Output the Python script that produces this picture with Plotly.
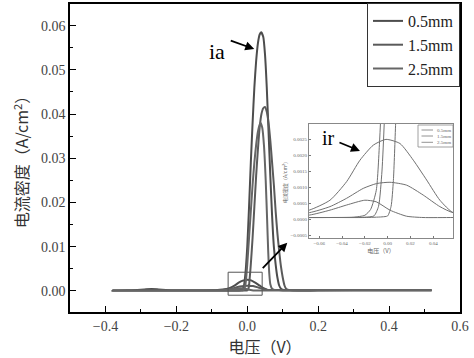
import plotly.graph_objects as go

# ---------------- data ----------------
series_names = ["0.5mm", "1.5mm", "2.5mm"]

# 0.5 mm : forward scan (activation peak ia) and reverse scan (reactivation peak ir)
v_fwd_05 = [-0.38, -0.30, -0.20, -0.10, -0.05, -0.03, -0.02, -0.015, -0.01, -0.007, -0.004, 0.0, 0.005,
            0.01, 0.015, 0.02, 0.025, 0.03, 0.035, 0.039, 0.045, 0.05, 0.055, 0.06, 0.065, 0.07, 0.075,
            0.08, 0.085, 0.09, 0.095, 0.10, 0.12, 0.2, 0.3, 0.4, 0.52]
j_fwd_05 = [0.00005, 0.00005, 0.00005, 0.00005, 0.00005, 0.00006, 0.00012, 0.0003, 0.0009, 0.0025, 0.005,
            0.010, 0.019, 0.029, 0.038, 0.046, 0.052, 0.056, 0.058, 0.0585, 0.0575, 0.0535, 0.046, 0.036,
            0.026, 0.017, 0.010, 0.006, 0.003, 0.0012, 0.0005, 0.00025, 0.0001, 0.0001, 0.0001, 0.0001, 0.0001]
v_rev_05 = [0.52, 0.4, 0.3, 0.2, 0.1, 0.075, 0.0575, 0.0458, 0.0342, 0.0225, 0.0108, -0.0015, -0.0126,
            -0.0243, -0.036, -0.0506, -0.0688, -0.09, -0.12, -0.16, -0.2, -0.23, -0.25, -0.27, -0.29,
            -0.31, -0.34, -0.38]
j_rev_05 = [0.0001, 0.0001, 0.0001, 0.00012, 0.00015, 0.00018, 0.0002, 0.00059, 0.00122, 0.00184, 0.00236,
            0.00249, 0.00231, 0.00184, 0.00117, 0.00059, 0.00028, 0.00015, 0.0001, 0.0001, 0.00012, 0.0002,
            0.0003, 0.0004, 0.0003, 0.0002, 0.0001, 0.00005]

# 1.5 mm
v_fwd_15 = [-0.38, -0.2, -0.05, -0.02, -0.005, 0.0, 0.003, 0.005, 0.007, 0.01, 0.015, 0.02, 0.025, 0.03,
            0.035, 0.04, 0.045, 0.05, 0.055, 0.06, 0.065, 0.07, 0.075, 0.08, 0.085, 0.09, 0.095, 0.1, 0.105,
            0.11, 0.12, 0.2, 0.35, 0.52]
j_fwd_15 = [0.00005, 0.00005, 0.00005, 0.00005, 0.00007, 0.0001, 0.0004, 0.0012, 0.003, 0.006, 0.012, 0.019,
            0.026, 0.032, 0.037, 0.040, 0.0413, 0.0416, 0.0405, 0.038, 0.034, 0.029, 0.024, 0.018, 0.013,
            0.009, 0.0055, 0.003, 0.0012, 0.0004, 0.00012, 0.0001, 0.0001, 0.0001]
v_rev_15 = [0.52, 0.35, 0.2, 0.1, 0.0575, 0.0458, 0.0312, 0.0166, 0.002, -0.0097, -0.0214, -0.036, -0.0506,
            -0.0688, -0.1, -0.15, -0.25, -0.38]
j_rev_15 = [0.0001, 0.0001, 0.00012, 0.00015, 0.0002, 0.00039, 0.00075, 0.00106, 0.00115, 0.00111, 0.00096,
            0.00065, 0.00039, 0.0002, 0.0001, 0.00007, 0.00006, 0.00005]

# 2.5 mm
v_fwd_25 = [-0.38, -0.2, -0.05, -0.02, -0.012, -0.008, -0.005, -0.003, 0.0, 0.005, 0.01, 0.015, 0.02, 0.025,
            0.03, 0.037, 0.042, 0.047, 0.052, 0.056, 0.059, 0.062, 0.065, 0.07, 0.08, 0.2, 0.35, 0.52]
j_fwd_25 = [0.00005, 0.00005, 0.00005, 0.00006, 0.0001, 0.0004, 0.0015, 0.003, 0.006, 0.012, 0.018, 0.024,
            0.029, 0.033, 0.036, 0.038, 0.037, 0.033, 0.025, 0.016, 0.009, 0.004, 0.0015, 0.0005, 0.00015,
            0.0001, 0.0001, 0.0001]
v_rev_25 = [0.52, 0.3, 0.1, 0.0575, 0.031, 0.0166, 0.002, -0.01, -0.02, -0.036, -0.0506, -0.0688, -0.1,
            -0.2, -0.38]
j_rev_25 = [0.0001, 0.0001, 0.00006, 0.00005, 0.00005, 0.00009, 0.00028, 0.00054, 0.00059, 0.00044, 0.00028,
            0.000125, 0.00008, 0.00006, 0.00005]

main_xticks = [-0.4, -0.2, 0.0, 0.2, 0.4, 0.6]
main_yticks = [0.00, 0.01, 0.02, 0.03, 0.04, 0.05, 0.06]
inset_xticks = [-0.06, -0.04, -0.02, 0.00, 0.02, 0.04]
inset_yticks = [-0.0005, 0.0000, 0.0005, 0.0010, 0.0015, 0.0020, 0.0025]

# ---------------- figure ----------------
W, H = 474, 358
ML, MR, MT, MB = 70, 14, 4, 46
PW, PH = W - ML - MR, H - MT - MB


def px(xp):
    return (xp - ML) / PW


def py(yp):
    return (H - MB - yp) / PH


loops = [
    (v_fwd_05 + v_rev_05, j_fwd_05 + j_rev_05),
    (v_fwd_15 + v_rev_15, j_fwd_15 + j_rev_15),
    (v_fwd_25 + v_rev_25, j_fwd_25 + j_rev_25),
]
main_colors = ["#4d4d4d", "#5a5a5a", "#666666"]
inset_colors = ["#707070", "#707070", "#707070"]

fig = go.Figure()
for (xv, yv), name, c in zip(loops, series_names, main_colors):
    fig.add_trace(go.Scatter(x=xv, y=yv, mode="lines", name=name,
                             line=dict(color=c, width=2, shape="spline", smoothing=0.6)))
for (xv, yv), name, c in zip(loops, series_names, inset_colors):
    fig.add_trace(go.Scatter(x=xv, y=yv, mode="lines", name=name, showlegend=False,
                             xaxis="x2", yaxis="y2",
                             line=dict(color=c, width=1, shape="spline", smoothing=0.6)))

serif = "Liberation Serif"
cjk = "Noto Sans CJK SC"

fig.update_layout(
    width=W, height=H,
    margin=dict(l=ML, r=MR, t=MT, b=MB, autoexpand=False),
    paper_bgcolor="white", plot_bgcolor="white",
    showlegend=True,
    legend=dict(x=1, xanchor="right", y=py(3), yanchor="top",
                bgcolor="white", bordercolor="#333", borderwidth=1,
                font=dict(family=serif, size=16, color="#222"),
                tracegroupgap=0, itemwidth=30),
    xaxis=dict(domain=[0, 1], range=[-0.5, 0.6], tickvals=main_xticks, tickformat=".1f",
               ticks="inside", ticklen=6, tickwidth=1.2, tickcolor="black",
               minor=dict(dtick=0.1, ticks="inside", ticklen=3, tickcolor="black"),
               showline=True, linecolor="black", linewidth=1.5, mirror=True,
               showgrid=False, zeroline=False,
               tickfont=dict(family=serif, size=14, color="#444"),
               title=dict(text="电压（V）", font=dict(family=cjk, size=16, color="#333"), standoff=6)),
    yaxis=dict(domain=[0, 1], range=[-0.0048, 0.0649], tickvals=main_yticks, tickformat=".2f",
               ticks="inside", ticklen=6, tickwidth=1.2, tickcolor="black",
               minor=dict(dtick=0.005, ticks="inside", ticklen=3, tickcolor="black"),
               showline=True, linecolor="black", linewidth=1.5, mirror=True,
               showgrid=False, zeroline=False,
               tickfont=dict(family=serif, size=14, color="#444"),
               title=dict(text="电流密度（A/cm<sup>2</sup>）", font=dict(family=cjk, size=16, color="#333"),
                          standoff=8)),
    xaxis2=dict(domain=[px(309), px(453)], anchor="y2", range=[-0.069, 0.0573],
                tickvals=inset_xticks, tickformat=".2f",
                ticks="inside", ticklen=2, tickcolor="#777",
                showline=True, linecolor="#888", linewidth=1, mirror=True,
                showgrid=False, zeroline=False,
                tickfont=dict(family=serif, size=5, color="#666"),
                title=dict(text="电压（V）", font=dict(family=cjk, size=6, color="#666"), standoff=2)),
    yaxis2=dict(domain=[py(238), py(124)], anchor="x2", range=[-0.00059, 0.00297],
                tickvals=inset_yticks, tickformat=".4f",
                ticks="inside", ticklen=2, tickcolor="#777",
                showline=True, linecolor="#888", linewidth=1, mirror=True,
                showgrid=False, zeroline=False,
                tickfont=dict(family=serif, size=5, color="#666"),
                title=dict(text="电流密度（A/cm<sup>2</sup>）", font=dict(family=cjk, size=5, color="#666"),
                           standoff=2)),
)

# zoom box on main plot
fig.add_shape(type="rect", xref="x", yref="y", x0=-0.054, x1=0.042, y0=-0.001, y1=0.0042,
              line=dict(color="#555", width=1))

# inset mini legend (drawn by hand)
fig.add_shape(type="rect", xref="paper", yref="paper", x0=px(418), x1=px(453), y0=py(147), y1=py(125),
              line=dict(color="#888", width=0.8), fillcolor="white")
for i, name in enumerate(series_names):
    yy = [130, 136, 142.3][i]
    fig.add_shape(type="line", xref="paper", yref="paper", x0=px(421.5), x1=px(433), y0=py(yy), y1=py(yy),
                  line=dict(color="#777", width=0.8))
    fig.add_annotation(xref="paper", yref="paper", x=px(435), y=py(yy), text=name, showarrow=False,
                       xanchor="left", yanchor="middle", font=dict(family=serif, size=5, color="#666"))

# labels and arrows
fig.add_annotation(xref="paper", yref="paper", x=px(217), y=py(37), text="ia", showarrow=False,
                   font=dict(family=serif, size=22, color="black"))
fig.add_annotation(xref="x", yref="y", x=0.0197, y=0.0547, ax=-25, ay=-9, text="",
                   showarrow=True, arrowhead=2, arrowsize=1, arrowwidth=1.8, arrowcolor="black")
fig.add_annotation(xref="paper", yref="paper", x=px(328), y=py(138), text="ir", showarrow=False,
                   font=dict(family=serif, size=20, color="black"))
fig.add_annotation(xref="x2", yref="y2", x=-0.0243, y=0.00213, ax=-22, ay=-9, text="",
                   showarrow=True, arrowhead=2, arrowsize=1, arrowwidth=1.8, arrowcolor="black")
fig.add_annotation(xref="paper", yref="paper", x=px(287.3), y=py(242.7), ax=-26, ay=27, text="",
                   showarrow=True, arrowhead=2, arrowsize=1, arrowwidth=1.8, arrowcolor="black")

fig.write_html("out.html", config={"displayModeBar": False},
               post_script="document.body.style.margin='0px';")
